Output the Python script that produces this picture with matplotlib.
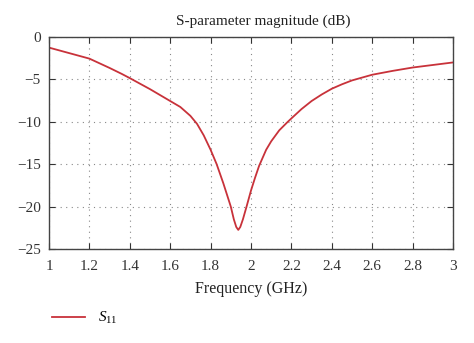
import matplotlib
matplotlib.use("Agg")
import matplotlib.pyplot as plt

freq_ghz = [1.0, 1.1, 1.2, 1.25, 1.3, 1.36, 1.4, 1.45, 1.5, 1.55, 1.6, 1.65, 1.7, 1.733,
            1.766, 1.8, 1.83, 1.863, 1.9, 1.915, 1.927, 1.937, 1.947, 1.96, 1.978, 2.0,
            2.02, 2.04, 2.075, 2.1, 2.14, 2.18, 2.2, 2.25, 2.3, 2.35, 2.4, 2.45, 2.5,
            2.6, 2.7, 2.8, 2.9, 3.0]
s11_db = [-1.25, -1.9, -2.55, -3.1, -3.65, -4.35, -4.85, -5.5, -6.15, -6.85, -7.55, -8.25,
          -9.3, -10.25, -11.6, -13.3, -15.0, -17.25, -20.0, -21.5, -22.4, -22.75, -22.4,
          -21.5, -20.0, -18.1, -16.6, -15.2, -13.3, -12.3, -11.0, -10.05, -9.6, -8.5,
          -7.55, -6.78, -6.1, -5.58, -5.12, -4.45, -4.0, -3.6, -3.3, -3.0]
x_ticks = [1, 1.2, 1.4, 1.6, 1.8, 2, 2.2, 2.4, 2.6, 2.8, 3]
x_tick_labels = ["1", "1.2", "1.4", "1.6", "1.8", "2", "2.2", "2.4", "2.6", "2.8", "3"]
y_ticks = [0, -5, -10, -15, -20, -25]
y_tick_labels = ["0", "\u22125", "\u221210", "\u221215", "\u221220", "\u221225"]

plt.rcParams['font.family'] = ['Liberation Serif', 'DejaVu Serif']
plt.rcParams['mathtext.fontset'] = 'custom'
plt.rcParams['mathtext.rm'] = 'Liberation Serif'
plt.rcParams['mathtext.it'] = 'Liberation Serif:italic'

fig = plt.figure(figsize=(4.74, 3.43), dpi=100)
ax = fig.add_axes([49/474, 1-249/343, (453-49)/474, (249-37)/343])

line, = ax.plot(freq_ghz, s11_db, color="#c8323a", lw=1.3)

ax.set_xlim(1, 3)
ax.set_ylim(-25, 0)
ax.set_xticks(x_ticks)
ax.set_xticklabels(x_tick_labels)
ax.set_yticks(y_ticks)
ax.set_yticklabels(y_tick_labels)
ax.tick_params(direction="in", top=True, right=True, length=4, width=0.8,
               labelsize=11, colors="#333333")
ax.tick_params(axis="x", pad=8)
ax.tick_params(axis="y", pad=6)
for s in ax.spines.values():
    s.set_color("#444444")
    s.set_linewidth(1.0)
ax.grid(True, linestyle=(0, (1, 4)), color="#888888", linewidth=0.8)

ax.set_title("S-parameter magnitude (dB)", fontsize=11, color="#222222", pad=9, x=0.53)
ax.set_xlabel("Frequency (GHz)", fontsize=11.5, color="#222222", labelpad=6)

fig.legend([line], [r"$S_{11}$"], loc="center left", bbox_to_anchor=(38/474, 1-318/343),
           frameon=False, fontsize=11, handlelength=2.2, handletextpad=0.8)

fig.savefig("out.png", dpi=100)
